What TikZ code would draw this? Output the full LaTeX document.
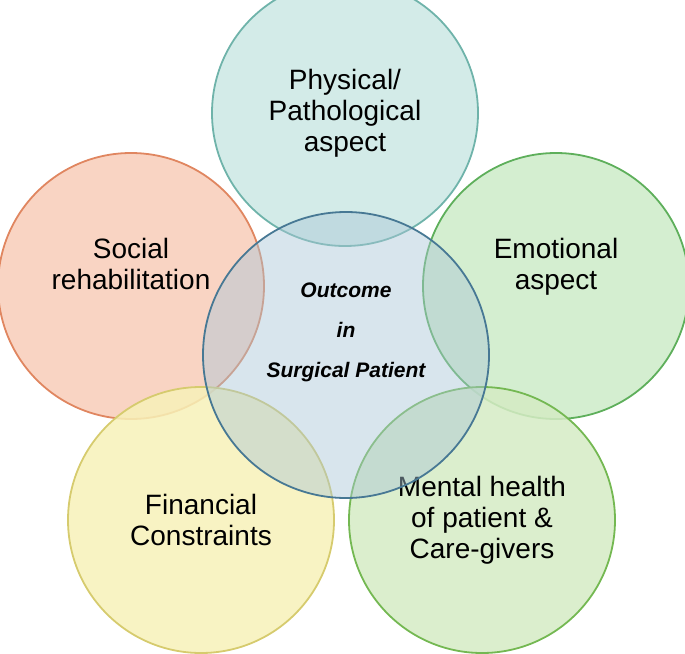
\documentclass[tikz,border=0pt]{standalone}
\usepackage{fontspec}
\setmainfont{Liberation Sans}
\definecolor{tealfill}{HTML}{CBE8E4}\definecolor{tealline}{HTML}{6FB3AA}
\definecolor{peachfill}{HTML}{F8CDB9}\definecolor{peachline}{HTML}{E08660}
\definecolor{greenfill}{HTML}{CDEBC8}\definecolor{greenline}{HTML}{5EAF5B}
\definecolor{yelfill}{HTML}{F7F1B8}\definecolor{yelline}{HTML}{D6CB6E}
\definecolor{limefill}{HTML}{D5EBC4}\definecolor{limeline}{HTML}{74B852}
\definecolor{bluefill}{HTML}{A9C6D6}\definecolor{blueline}{HTML}{477894}
\begin{document}
\begin{tikzpicture}[x=1pt,y=-1pt,
  aspect/.style={circle,draw=#1line,fill=#1fill,line width=1.8pt,fill opacity=0.85,
    text opacity=1,minimum size=266pt,inner sep=0pt,align=center,
    font=\fontsize{28}{31}\selectfont}]
  \useasboundingbox (0,0) rectangle (685,653);
  % outer aspects
  \node[aspect=teal]  (phys) at (345,113) {Physical/\\Pathological\\aspect};
  \node[aspect=peach] (soc)  at (131,286) {Social\\rehabilitation\\[14pt]};
  \node[aspect=green] (emo)  at (556,286) {Emotional\\aspect\\[14pt]};
  \node[aspect=yel]   (fin)  at (201,520) {Financial\\Constraints};
  \node[aspect=lime]  (ment) at (482,520) {Mental health\\of patient \&\\Care-givers};
  % centre
  \node[aspect=blue,fill opacity=0.45,minimum size=286pt,
    font=\fontsize{21}{40}\selectfont\bfseries\itshape] (out) at (346,355)
    {Outcome\\in\\Surgical Patient\\[10pt]};
\end{tikzpicture}
\end{document}
